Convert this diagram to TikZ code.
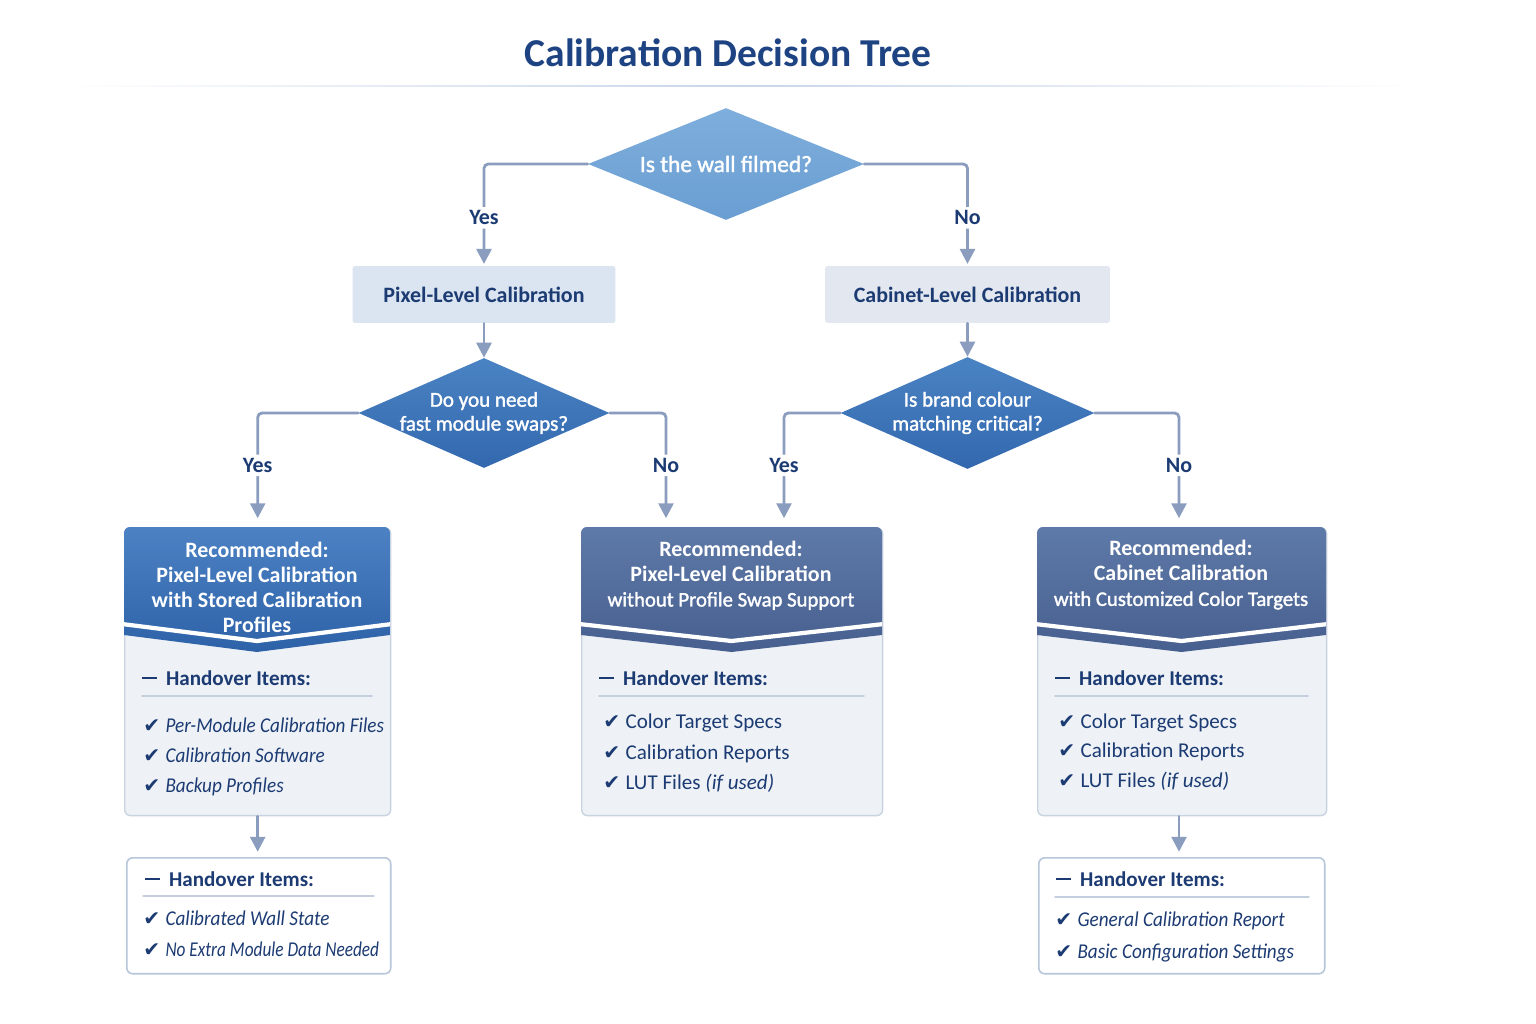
\documentclass[tikz,border=0pt]{standalone}
\usepackage{fontspec}
\setmainfont{Carlito}
\newfontfamily\checkfont{DejaVu Sans}
\newfontfamily\mediumfont{Carlito}[FakeBold=1.6]
\newfontfamily\narrowfont{Carlito}[FakeStretch=0.91]
\newfontfamily\narrowerfont{Carlito}[FakeStretch=0.82]
\usepackage{tikz}
\usetikzlibrary{arrows.meta, shapes.geometric}
\usepackage{xcolor}

\definecolor{titleblue}{HTML}{1E4382}
\definecolor{navy}{HTML}{1C3B73}
\definecolor{rulecol}{HTML}{C8D6EA}
\definecolor{linkcol}{HTML}{8A9DBE}
\definecolor{boxblue}{HTML}{DAE5F1}
\definecolor{boxgrey}{HTML}{E3E8F0}
\definecolor{qlighttop}{HTML}{7EAEDC}
\definecolor{qlightbot}{HTML}{6A9ED2}
\definecolor{qdarktop}{HTML}{4A83C3}
\definecolor{qdarkbot}{HTML}{3368AE}
\definecolor{hdbluetop}{HTML}{4C82C4}
\definecolor{hdbluebot}{HTML}{2E62A8}
\definecolor{hdslatetop}{HTML}{5E7AA8}
\definecolor{hdslatebot}{HTML}{475F8F}
\definecolor{cardbody}{HTML}{EEF2F7}
\definecolor{cardedge}{HTML}{C9D3E1}
\definecolor{listedge}{HTML}{B8C6DA}
\definecolor{sepline}{HTML}{C3CFDF}

\newcommand{\tickmark}{{\checkfont\fontsize{11.5}{12}\selectfont ✔}\hspace{3pt}}
\newcommand{\handdash}{\rule[3.4pt]{8.5pt}{1.1pt}\hspace{5pt}}

\begin{document}
\begin{tikzpicture}[
  x=0.02cm,
  y=-0.02cm,
  line cap=round,
  line join=round,
  title/.style={font=\fontsize{22.5}{26}\selectfont\bfseries,text=titleblue,anchor=base},
  question/.style={diamond,draw=none,inner sep=0pt},
  qtext/.style={font=\mediumfont\fontsize{12}{13.6}\selectfont,text=white,align=center},
  calcbox/.style={rectangle,rounded corners=1.5pt,inner sep=0pt,
    minimum height=1.14cm,font=\fontsize{12.5}{14}\selectfont\bfseries,text=navy},
  answer/.style={font=\fontsize{12.5}{14}\selectfont\bfseries,text=navy,
    fill=white,inner sep=2pt},
  link/.style={draw=linkcol,line width=1.6pt,rounded corners=2.5pt,
    -{Triangle[width=8.5pt,length=8.5pt]}},
  card/.style={rectangle,rounded corners=3.4pt,draw=cardedge,fill=cardbody,
    line width=0.8pt,minimum height=5.76cm,inner sep=0pt},
  listbox/.style={rectangle,rounded corners=3.4pt,draw=listedge,fill=white,
    line width=0.9pt,minimum height=2.32cm,inner sep=0pt},
  head/.style={font=\fontsize{12.5}{14.2}\selectfont\bfseries,text=white,align=center},
  subhead/.style={font=\mediumfont\mdseries\fontsize{11.8}{14.2}\selectfont},
  handover/.style={font=\fontsize{12}{14}\selectfont\bfseries,text=navy,
    anchor=base west,inner sep=0pt},
  item/.style={font=\fontsize{12}{14}\selectfont,text=navy,anchor=base west,inner sep=0pt}
]

  % Page and title
  \fill[white] (0,0) rectangle (1536,1024);
  \useasboundingbox (0,0) rectangle (1536,1024);
  \node[title] (title) at (728,67) {Calibration Decision Tree};
  \shade[left color=white,right color=white,middle color=rulecol]
    (60,85.4) rectangle (1420,86.8);

  % Decisions
  \node[question,minimum width=5.52cm,minimum height=2.24cm,
    top color=qlighttop,bottom color=qlightbot] (q1) at (726,164) {};
  \node[qtext,font=\mediumfont\fontsize{13.3}{14}\selectfont] (q1txt) at (q1.center)
    {Is the wall filmed?};
  \node[question,minimum width=5.02cm,minimum height=2.2cm,
    top color=qdarktop,bottom color=qdarkbot] (q2) at (484,413) {};
  \node[qtext] (q2txt) at (q2.center) {Do you need\\fast module swaps?};
  \node[question,minimum width=5.08cm,minimum height=2.24cm,
    top color=qdarktop,bottom color=qdarkbot] (q3) at (967.5,413) {};
  \node[qtext] (q3txt) at (q3.center) {Is brand colour\\matching critical?};

  % Calibration level boxes
  \node[calcbox,fill=boxblue,minimum width=5.26cm] (box1) at (484,294.5)
    {Pixel-Level Calibration};
  \node[calcbox,fill=boxgrey,minimum width=5.7cm] (box2) at (967.5,294.5)
    {Cabinet-Level Calibration};

  % Recommendation cards and follow-up lists
  \node[card,minimum width=5.32cm,anchor=north west] (card1) at (124,527) {};
  \node[card,minimum width=6.02cm,anchor=north west] (card2) at (581,527) {};
  \node[card,minimum width=5.78cm,anchor=north west] (card3) at (1037,527) {};
  \node[listbox,minimum width=5.28cm,anchor=north west] (list1) at (126,857) {};
  \node[listbox,minimum width=5.72cm,anchor=north west] (list3) at (1038,857) {};
  \coordinate (in2a) at (666,527);
  \coordinate (in2b) at (784,527);
  \coordinate (in3) at (1179,527);

  % Card headers with the chevron ribbon
  \foreach \cl/\cr/\ct/\cb in {124/390/hdbluetop/hdbluebot,
                               581/882/hdslatetop/hdslatebot,
                               1037/1326/hdslatetop/hdslatebot} {
    \pgfmathsetmacro{\cm}{(\cl+\cr)/2}
    \begin{scope}
      \clip[rounded corners=3.4pt] (\cl,527) rectangle (\cr,815);
      \shade[top color=\ct,bottom color=\cb]
        (\cl,527) -- (\cr,527) -- (\cr,635) -- (\cm,652) -- (\cl,635) -- cycle;
      \draw[white,line width=2.4pt] (\cl-2,624) -- (\cm,641) -- (\cr+2,624);
    \end{scope}
    \draw[sepline,line width=0.8pt] (\cl+18,696) -- (\cr-18,696);
    \node[handover] (hand\cl) at (\cl+18,685) {\handdash Handover Items:};
  }

  \node[head] (rec1) at (257,587)
    {Recommended:\\Pixel-Level Calibration\\with Stored Calibration\\Profiles};
  \node[head] (rec2) at (731,575.5)
    {Recommended:\\Pixel-Level Calibration\\
     {\mediumfont\mdseries\fontsize{11.8}{14.2}\selectfont without Profile Swap Support}};
  \node[head] (rec3) at (1181,575)
    {Recommended:\\Cabinet Calibration\\
     {\mediumfont\mdseries\fontsize{11.8}{14.2}\selectfont with Customized Color Targets}};

  % Card items
  \foreach \yy/\txt in {732/Per-Module Calibration Files,
                        762/Calibration Software,
                        792/Backup Profiles} {
    \node[item] (pix\yy) at (143,\yy) {\tickmark{\narrowfont\itshape \txt}};
  }
  \foreach \yy/\txt in {728/Color Target Specs,
                        759/Calibration Reports,
                        789/{LUT Files \textit{(if used)}}} {
    \node[item] (nos\yy) at (603,\yy) {\tickmark\txt};
  }
  \foreach \yy/\txt in {728/Color Target Specs,
                        757/Calibration Reports,
                        787/{LUT Files \textit{(if used)}}} {
    \node[item] (cab\yy) at (1058,\yy) {\tickmark\txt};
  }

  % Follow-up lists
  \node[handover] (hand1) at (145,886) {\handdash Handover Items:};
  \draw[sepline,line width=0.8pt] (143,896) -- (374,896);
  \node[item] (wall) at (143,925) {\tickmark{\narrowfont\itshape Calibrated Wall State}};
  \node[item] (nodata) at (143,956)
    {\tickmark{\narrowerfont\itshape No Extra Module Data Needed}};
  \node[handover] (hand3) at (1056,886) {\handdash Handover Items:};
  \draw[sepline,line width=0.8pt] (1055,897) -- (1309,897);
  \node[item] (report) at (1055,926)
    {\tickmark{\narrowfont\itshape General Calibration Report}};
  \node[item] (basic) at (1055,958)
    {\tickmark{\narrowfont\itshape Basic Configuration Settings}};

  % Connectors
  \draw[link,shorten >=1pt] (q1.west) -| node[answer,pos=0.765] (yes1) {Yes} (box1.north);
  \draw[link,shorten >=1pt] (q1.east) -| node[answer,pos=0.765] (no1) {No} (box2.north);
  \draw[link] (box1.south) -- (q2.north);
  \draw[link] (box2.south) -- (q3.north);
  \draw[link,shorten >=5pt] (q2.west) -| node[answer,pos=0.73] (yes2) {Yes} (card1.north);
  \draw[link,shorten >=5pt] (q2.east) -| node[answer,pos=0.73] (no2) {No} (in2a);
  \draw[link,shorten >=5pt] (q3.west) -| node[answer,pos=0.73] (yes3) {Yes} (in2b);
  \draw[link,shorten >=5pt] (q3.east) -| node[answer,pos=0.73] (no3) {No} (in3);
  \draw[link,shorten >=3pt] (card1.south) -- (card1.south |- list1.north);
  \draw[link,shorten >=3pt] (in3 |- card3.south) -- (in3 |- list3.north);

\end{tikzpicture}
\end{document}
